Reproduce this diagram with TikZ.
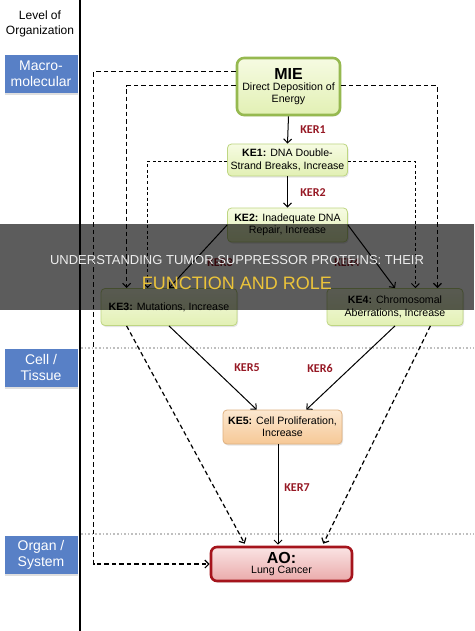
\documentclass[tikz,border=0pt]{standalone}
\usepackage{fontspec}
\setmainfont{Liberation Sans}
\newfontfamily\kerfont{Carlito}
\usetikzlibrary{arrows.meta,calc,shadows}
\definecolor{lvlblue}{RGB}{88,128,198}
\definecolor{kegtop}{RGB}{246,251,226}
\definecolor{kegbot}{RGB}{226,240,180}
\definecolor{kegline}{RGB}{190,214,130}
\definecolor{miegline}{RGB}{150,185,80}
\definecolor{ke5top}{RGB}{252,232,208}
\definecolor{ke5bot}{RGB}{246,200,150}
\definecolor{ke5line}{RGB}{222,176,128}
\definecolor{aotop}{RGB}{250,228,228}
\definecolor{aobot}{RGB}{234,170,170}
\definecolor{aoline}{RGB}{165,20,28}
\definecolor{kerred}{RGB}{150,24,36}
\definecolor{banneryellow}{RGB}{236,196,58}
\begin{document}
\begin{tikzpicture}[x=1pt,y=-1pt,
  kebox/.style={draw=kegline, line width=0.8pt, rounded corners=4pt,
    top color=kegtop, bottom color=kegbot, align=center, inner sep=2pt,
    font=\fontsize{10.6}{12.4}\selectfont,
    drop shadow={opacity=0.2,shadow xshift=1pt,shadow yshift=-1.5pt}},
  lvlbox/.style={fill=lvlblue, text=white, align=center, inner sep=1pt,
    minimum width=73pt, minimum height=38pt, font=\fontsize{14}{16}\selectfont,
    drop shadow={opacity=0.25,shadow xshift=0pt,shadow yshift=-2pt}},
  arr/.style={line width=1pt, -{Straight Barb[length=4pt,width=8pt]}},
  dline/.style={line width=1.2pt, dash pattern=on 4.5pt off 3pt, -{Straight Barb[length=4pt,width=8pt]}},
  fline/.style={line width=0.9pt, dash pattern=on 3pt off 2.5pt, -{Straight Barb[length=4pt,width=8pt]}},
  kerlbl/.style={text=kerred, font=\kerfont\bfseries\fontsize{12}{14}\selectfont},
  lvlline/.style={draw=gray!50, line width=1.6pt, dotted}
]
\useasboundingbox (0,0) rectangle (474,631);
\fill[white] (0,0) rectangle (474,631);

% level column
\node[align=center, font=\fontsize{12}{14.5}\selectfont] (lvltitle) at (40,24) {Level of\\Organization};
\node[lvlbox] (lvlmacro) at (41,74) {Macro-\\molecular};
\node[lvlbox] (lvlcell) at (41,367.5) {Cell /\\Tissue};
\node[lvlbox] (lvlorgan) at (41,555) {Organ /\\System};
\draw[line width=2pt] (80,0) -- (80,631);
\draw[lvlline] (81,348) -- (474,348);
\draw[lvlline] (81,534) -- (474,534);

% nodes
\node[kebox, draw=miegline, line width=2.6pt, rounded corners=7pt, minimum width=103pt, minimum height=57pt] (mie) at (288.5,86.5)
  {{\bfseries\fontsize{16}{18}\selectfont MIE}\\[-1pt]Direct Deposition of\\Energy};
\node[kebox, minimum width=120pt, minimum height=32pt] (ke1) at (287.5,160)
  {\textbf{KE1:} DNA Double-\\Strand Breaks, Increase};
\node[kebox, minimum width=120pt, minimum height=34pt] (ke2) at (287.5,225)
  {\textbf{KE2:} Inadequate DNA\\Repair, Increase};
\node[kebox, minimum width=136pt, minimum height=37pt] (ke3) at (169,307)
  {\textbf{KE3:} Mutations, Increase};
\node[kebox, minimum width=136pt, minimum height=37pt] (ke4) at (395,307)
  {\textbf{KE4:} Chromosomal\\Aberrations, Increase};
\node[kebox, draw=ke5line, top color=ke5top, bottom color=ke5bot, minimum width=119pt, minimum height=34pt] (ke5) at (282.5,427)
  {\textbf{KE5:} Cell Proliferation,\\Increase};
\node[kebox, draw=aoline, line width=2.6pt, rounded corners=6pt, top color=aotop, bottom color=aobot, minimum width=141pt, minimum height=34pt] (ao) at (281.5,564)
  {{\bfseries\fontsize{16}{18}\selectfont AO:}\\[-2pt]Lung Cancer};

% solid KER arrows
\draw[arr] (mie.south) -- (ke1.north);
\draw[arr] (ke1.south) -- (ke2.north);
\draw[arr] (ke2.west) -- (ke3.north);
\draw[arr] (ke2.east) -- (ke4.north);
\draw[arr] (ke3.south) -- ($(ke5.north west)+(34,0)$);
\draw[arr] (ke4.south) -- ($(ke5.north east)+(-36,0)$);
\draw[arr] ($(ke5.south)+(-4.5,0)$) -- ($(ao.north)+(-3.5,-1)$);

% dashed non-adjacent relations
\draw[dline] ($(mie.north west)+(0,15)$) -- ++(-142,0) |- (ao.west);
\draw[dline] ($(mie.north west)+(0,29)$) -| ($(ke3.north west)+(26,0)$);
\draw[fline] ($(ke1.west)+(0,1.5)$) -| ($(ke3.north west)+(47,0)$);
\draw[dline] ($(mie.north east)+(0,29)$) -| ($(ke4.north east)+(-26,0)$);
\draw[fline] ($(ke1.east)+(0,1.5)$) -| ($(ke4.north east)+(-48,0)$);
\draw[dline] ($(ke3.south west)+(26,0)$) -- ($(ao.north west)+(35,-2)$);
\draw[dline] ($(ke4.south east)+(-33,0)$) -- ($(ao.north east)+(-30,-2)$);

% KER labels
\node[kerlbl] (ker1) at (313,130) {KER1};
\node[kerlbl] (ker2) at (313,193) {KER2};
\node[kerlbl] (ker3) at (220,263) {KER3};
\node[kerlbl] (ker4) at (347,263) {KER4};
\node[kerlbl] (ker5) at (247,368) {KER5};
\node[kerlbl] (ker6) at (320,368) {KER6};
\node[kerlbl] (ker7) at (297,488) {KER7};

% overlay banner
\fill[black, opacity=0.64] (0,224) rectangle (474,310);
\node[text=white!93!black, font=\fontsize{13}{15}\selectfont] (banner1) at (237,260) {UNDERSTANDING TUMOR SUPPRESSOR PROTEINS: THEIR};
\node[text=banneryellow, font=\fontsize{18}{20}\selectfont] (banner2) at (237,283) {FUNCTION AND ROLE};
\end{tikzpicture}
\end{document}
